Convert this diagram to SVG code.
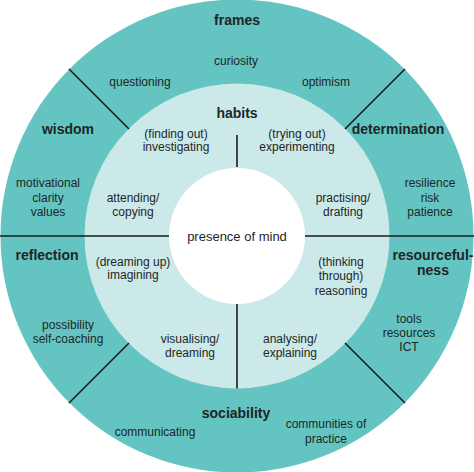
<svg xmlns="http://www.w3.org/2000/svg" width="474" height="472" viewBox="0 0 474 472">
<style>
text{font-family:"Liberation Sans",Arial,sans-serif;fill:#1e2626;text-anchor:middle}
.t{font-size:12px}
.b{font-size:14px;font-weight:bold}
.c{font-size:13px}
.ln{stroke:#1a1a1a;stroke-width:1.6;fill:none}
</style>
<rect width="474" height="472" fill="#ffffff"/>
<g id="rings">
<circle cx="237" cy="236" r="236.5" fill="#64c4c1"/>
<circle cx="237" cy="236" r="152.5" fill="#cbe9e8"/>
<circle cx="237" cy="236" r="68" fill="#ffffff"/>
</g>
<g id="connectors">
<line class="ln" x1="0" y1="236" x2="169" y2="236"/>
<line class="ln" x1="305" y1="236" x2="474" y2="236"/>
<line class="ln" x1="237" y1="135" x2="237" y2="167"/>
<line class="ln" x1="237" y1="304" x2="237" y2="388.5"/>
<line class="ln" x1="69" y1="69" x2="129" y2="129"/>
<line class="ln" x1="405" y1="69" x2="345" y2="129"/>
<line class="ln" x1="129" y1="343" x2="69" y2="403"/>
<line class="ln" x1="345" y1="343" x2="405" y2="403"/>
</g>
<g id="frames">
<text class="b" x="237" y="25">frames</text>
<text class="t" x="236" y="65">curiosity</text>
<text class="t" x="140" y="86">questioning</text>
<text class="t" x="326" y="86">optimism</text>
</g>
<g id="determination">
<text class="b" x="398" y="134">determination</text>
<text class="t" x="430" y="187">resilience</text>
<text class="t" x="430" y="202">risk</text>
<text class="t" x="430" y="216">patience</text>
</g>
<g id="resourcefulness">
<text class="b" x="433" y="260">resourceful-</text>
<text class="b" x="433" y="275">ness</text>
<text class="t" x="409" y="323">tools</text>
<text class="t" x="409" y="337">resources</text>
<text class="t" x="409" y="351">ICT</text>
</g>
<g id="sociability">
<text class="b" x="236" y="418">sociability</text>
<text class="t" x="155" y="436">communicating</text>
<text class="t" x="326" y="428">communities of</text>
<text class="t" x="326" y="443">practice</text>
</g>
<g id="reflection">
<text class="b" x="47" y="260">reflection</text>
<text class="t" x="68" y="329">possibility</text>
<text class="t" x="68" y="343">self-coaching</text>
</g>
<g id="wisdom">
<text class="b" x="68" y="134">wisdom</text>
<text class="t" x="48" y="187">motivational</text>
<text class="t" x="48" y="202">clarity</text>
<text class="t" x="48" y="216">values</text>
</g>
<g id="habits">
<text class="b" x="237" y="118">habits</text>
<text class="t" x="176" y="138">(finding out)</text>
<text class="t" x="176" y="151">investigating</text>
<text class="t" x="297" y="138">(trying out)</text>
<text class="t" x="297" y="151">experimenting</text>
<text class="t" x="133" y="202">attending/</text>
<text class="t" x="133" y="216">copying</text>
<text class="t" x="343" y="202">practising/</text>
<text class="t" x="343" y="216">drafting</text>
<text class="t" x="133" y="266">(dreaming up)</text>
<text class="t" x="133" y="279">imagining</text>
<text class="t" x="341" y="266">(thinking</text>
<text class="t" x="341" y="280">through)</text>
<text class="t" x="341" y="295">reasoning</text>
<text class="t" x="190" y="343">visualising/</text>
<text class="t" x="190" y="357">dreaming</text>
<text class="t" x="290" y="343">analysing/</text>
<text class="t" x="290" y="357">explaining</text>
</g>
<g id="presence">
<text class="c" x="237" y="241">presence of mind</text>
</g>
</svg>
